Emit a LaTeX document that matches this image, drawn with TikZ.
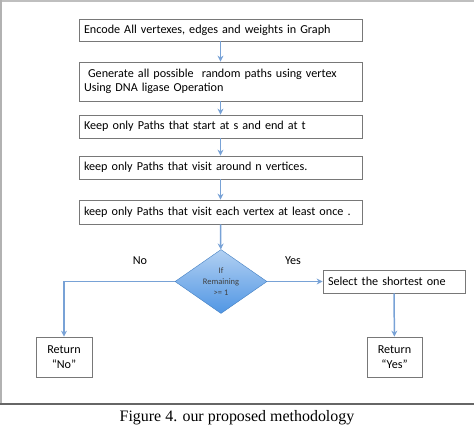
\documentclass[tikz,border=0pt]{standalone}
\usepackage{fontspec}
\setmainfont{Carlito}
\newfontfamily\capfont{Liberation Serif}
\usetikzlibrary{shapes.geometric,arrows.meta}
\definecolor{flowblue}{RGB}{120,162,214}
\definecolor{boxgray}{RGB}{120,120,120}
\definecolor{diatop}{RGB}{178,208,242}
\definecolor{diabot}{RGB}{80,150,228}

\begin{document}
\begin{tikzpicture}[x=1bp,y=-1bp,
    stepbox/.style={draw=boxgray, line width=0.8pt, fill=white, minimum width=283bp, text width=273bp, align=left, inner sep=5bp, font=\fontsize{12.2}{14.5}\selectfont},
    retbox/.style={draw=boxgray, line width=0.8pt, fill=white, minimum height=40bp, align=center, inner sep=2bp, font=\fontsize{12.2}{15}\selectfont},
    arr/.style={-{Stealth[length=6pt,width=6pt]}, flowblue, line width=1.5pt}]
    \useasboundingbox (0,0) rectangle (474,429);
    % frame
    \draw[black!25, line width=1.5pt] (0,1) -- (474,1);
    \draw[black!30, line width=1.5pt] (1,0) -- (1,404);
    \draw[black!60, line width=1.8pt] (0,404) -- (474,404);
    % steps
    \node[stepbox, minimum height=22bp] (enc) at (220.5,30) {Encode All vertexes, edges and weights in Graph};
    \node[stepbox, minimum height=39bp] (gen) at (220.5,81.5) {\ Generate all possible\ \ random paths using vertex\\Using DNA ligase Operation};
    \node[stepbox, minimum height=23bp] (st) at (220.5,126.5) {Keep only Paths that start at s and end at t};
    \node[stepbox, minimum height=23bp] (vn) at (220.5,167.5) {keep only Paths that visit around n vertices.};
    \node[stepbox, minimum height=24bp] (once) at (220.5,212) {keep only Paths that visit each vertex at least once .};
    \node[diamond, draw=diabot!85!black, line width=0.4pt, top color=diatop, bottom color=diabot, minimum width=92bp, minimum height=63bp, inner sep=0pt, align=center, font=\fontsize{8.5}{11}\selectfont\color{black!75}] (dec) at (221,281.5) {If\\Remaining\\>= 1};
    \node[stepbox, minimum width=142bp, text width=132bp, minimum height=23bp] (sel) at (394,281.5) {Select the shortest one};
    \node[retbox, minimum width=56bp] (retno) at (64,357) {Return\\“No”};
    \node[retbox, minimum width=55bp] (retyes) at (394.5,357) {Return\\“Yes”};
    \node[font=\fontsize{12.2}{14}\selectfont] (lno) at (140,261) {No};
    \node[font=\fontsize{12.2}{14}\selectfont] (lyes) at (293,261) {Yes};
    % connectors
    \draw[arr] (enc) -- (gen);
    \draw[arr] (gen) -- (st);
    \draw[arr] (st) -- (vn);
    \draw[arr] (vn) -- (once);
    \draw[arr] (once) -- (dec);
    \draw[arr] (dec.east) -- (sel);
    \draw[arr] (dec.west) -| (retno);
    \draw[arr] (sel) -- (retyes);
    \node[font=\capfont\fontsize{16}{18}\selectfont] (cap) at (237,418) {Figure 4. our proposed methodology};
\end{tikzpicture}
\end{document}
